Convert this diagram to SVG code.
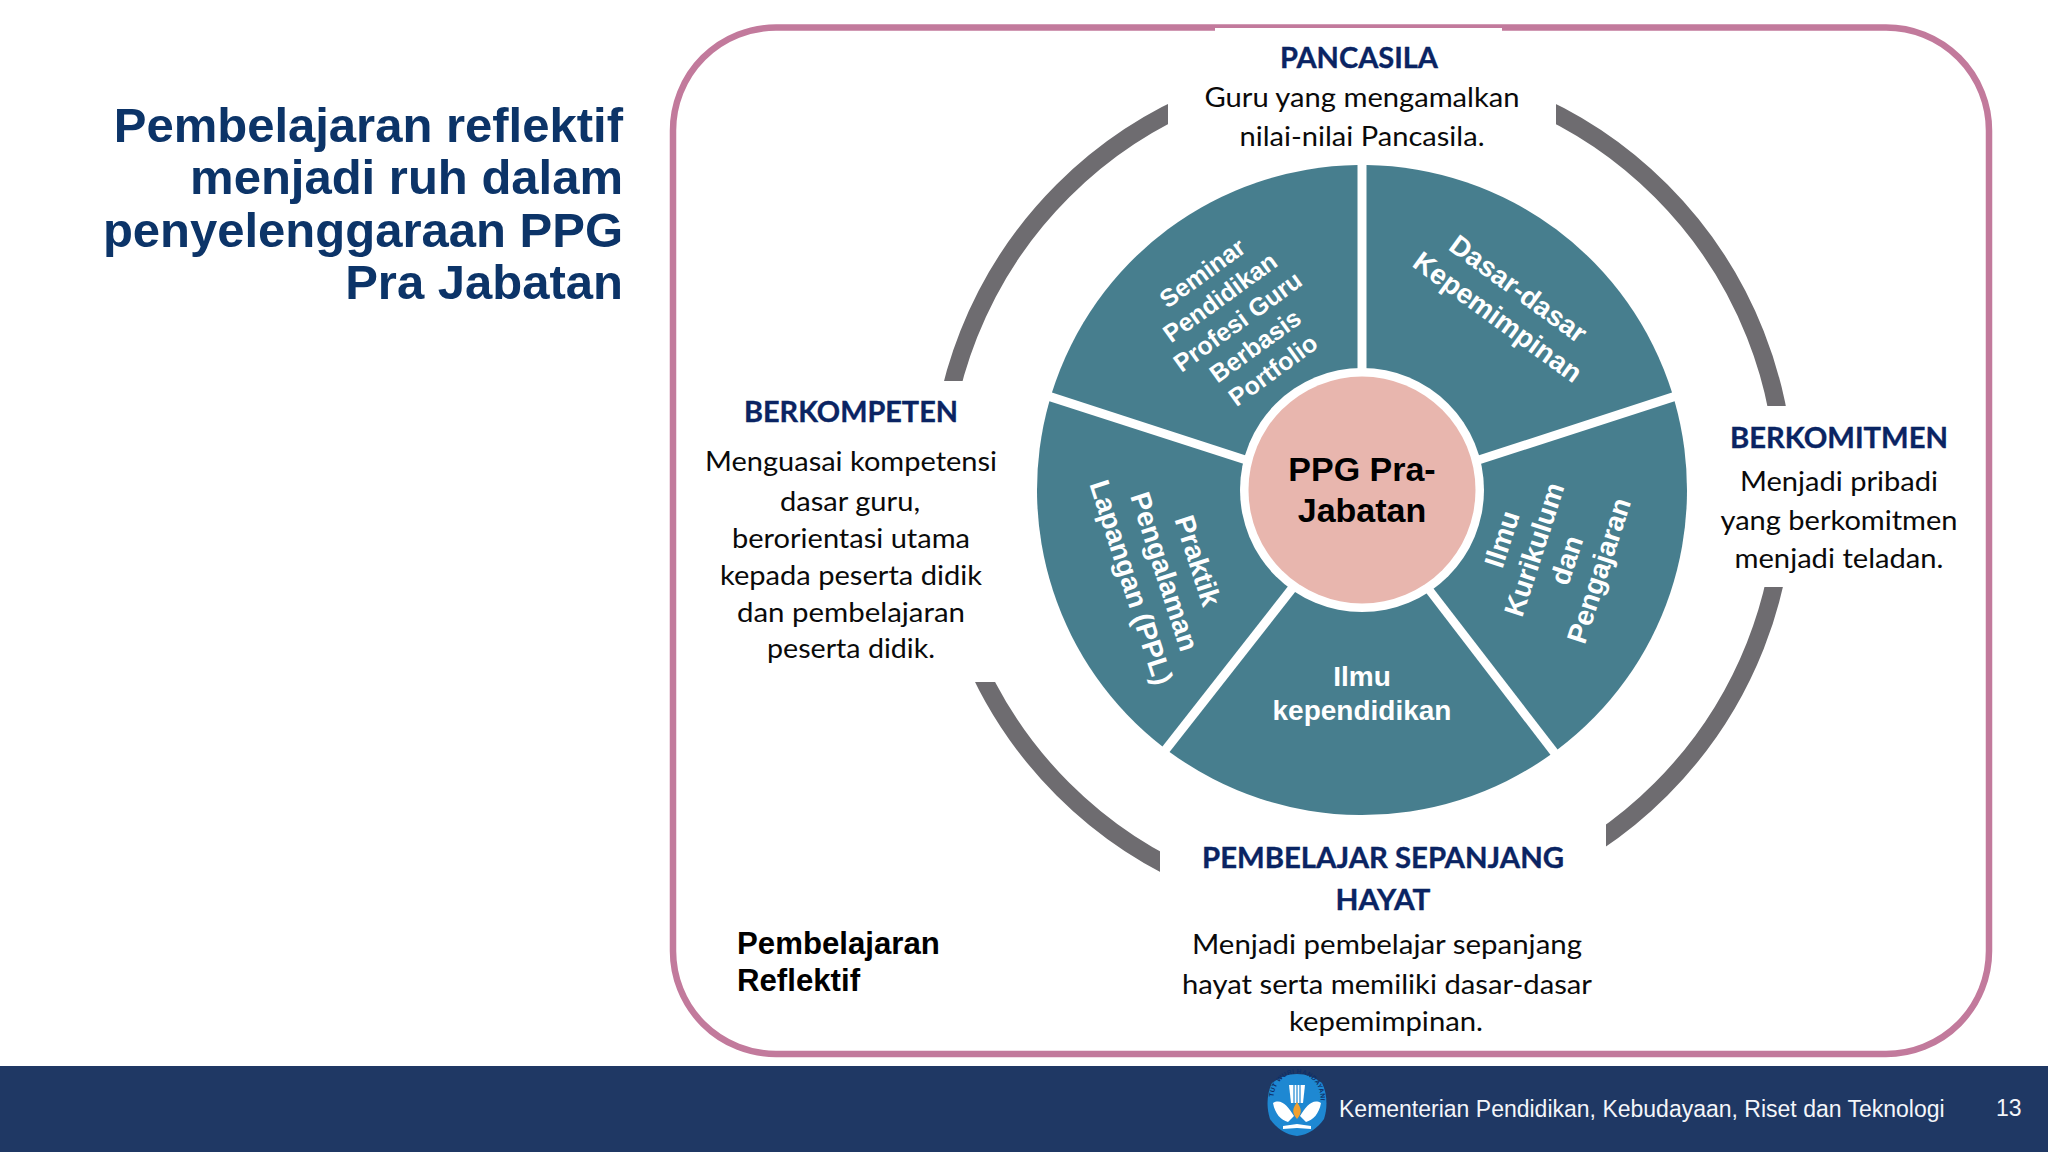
<svg xmlns="http://www.w3.org/2000/svg" width="2048" height="1152" viewBox="0 0 2048 1152">
<style>
.h{font-family:Lato,"Open Sans",sans-serif;font-weight:700;font-size:28px;fill:#0A2463;stroke:#0A2463;stroke-width:.35px;text-anchor:middle}
.b{font-family:Lato,"Open Sans",sans-serif;font-size:27px;fill:#0A0A0A;text-anchor:middle}
.t{font-family:"Liberation Sans",Arial,sans-serif;font-weight:700;font-size:49px;fill:#0C3468;text-anchor:end}
.w{font-family:"Liberation Sans",Arial,sans-serif;font-weight:700;font-size:28px;fill:#FFF;text-anchor:middle}
.s{font-size:25px}
.c{font-family:"Liberation Sans",Arial,sans-serif;font-weight:700;font-size:34px;fill:#000;text-anchor:middle}
.r{font-family:"Liberation Sans",Arial,sans-serif;font-weight:700;font-size:31.2px;fill:#000}
.f{font-family:"Liberation Sans",Arial,sans-serif;font-size:23px;fill:#F4F6FA}
.wedge{fill:#477E8E}
.mask{fill:#FFF}
</style>
<defs>
<path id="tw" d="M1274 1103A23.500 24.500 0 1 1 1320 1103" fill="none"/>
</defs>
<rect width="2048" height="1152" fill="#FFF"/>
<rect id="frame" x="673" y="27.500" width="1316" height="1026.500" rx="103" ry="103" fill="#FFF" stroke="#C27A9C" stroke-width="6.500"/>
<g id="connectors">
<circle cx="1362" cy="490" r="423" fill="none" stroke="#6E6C70" stroke-width="18"/>
</g>
<g id="title">
<text class="t" x="623" y="142">Pembelajaran reflektif</text>
<text class="t" x="623" y="194">menjadi ruh dalam</text>
<text class="t" x="623" y="247">penyelenggaraan PPG</text>
<text class="t" x="623" y="299">Pra Jabatan</text>
</g>
<g id="node-pancasila">
<rect class="mask" x="1215" y="28" width="287" height="60"/>
<rect class="mask" x="1168" y="80" width="388" height="84"/>
<text class="h" x="1359" y="68" textLength="158" lengthAdjust="spacingAndGlyphs">PANCASILA</text>
<text class="b" x="1362" y="107" textLength="315" lengthAdjust="spacingAndGlyphs">Guru yang mengamalkan</text>
<text class="b" x="1362" y="146" textLength="245" lengthAdjust="spacingAndGlyphs">nilai-nilai Pancasila.</text>
</g>
<g id="node-berkompeten">
<rect class="mask" x="690" y="381" width="320" height="301"/>
<text class="h" x="851" y="422" textLength="214" lengthAdjust="spacingAndGlyphs">BERKOMPETEN</text>
<text class="b" x="851" y="471" textLength="292" lengthAdjust="spacingAndGlyphs">Menguasai kompetensi</text>
<text class="b" x="850" y="511" textLength="140" lengthAdjust="spacingAndGlyphs">dasar guru,</text>
<text class="b" x="851" y="548" textLength="238" lengthAdjust="spacingAndGlyphs">berorientasi utama</text>
<text class="b" x="851" y="585" textLength="262" lengthAdjust="spacingAndGlyphs">kepada peserta didik</text>
<text class="b" x="851" y="622" textLength="228" lengthAdjust="spacingAndGlyphs">dan pembelajaran</text>
<text class="b" x="851" y="658" textLength="168" lengthAdjust="spacingAndGlyphs">peserta didik.</text>
</g>
<g id="node-berkomitmen">
<rect class="mask" x="1720" y="406" width="260" height="181"/>
<text class="h" x="1839" y="448" textLength="218" lengthAdjust="spacingAndGlyphs">BERKOMITMEN</text>
<text class="b" x="1839" y="491" textLength="198" lengthAdjust="spacingAndGlyphs">Menjadi pribadi</text>
<text class="b" x="1839" y="530" textLength="237" lengthAdjust="spacingAndGlyphs">yang berkomitmen</text>
<text class="b" x="1839" y="568" textLength="209" lengthAdjust="spacingAndGlyphs">menjadi teladan.</text>
</g>
<g id="node-pembelajar">
<rect class="mask" x="1160" y="822" width="446" height="226"/>
<text class="h" x="1383" y="868" textLength="362" lengthAdjust="spacingAndGlyphs">PEMBELAJAR SEPANJANG</text>
<text class="h" x="1383" y="910" textLength="95" lengthAdjust="spacingAndGlyphs">HAYAT</text>
<text class="b" x="1387" y="954" textLength="390" lengthAdjust="spacingAndGlyphs">Menjadi pembelajar sepanjang</text>
<text class="b" x="1387" y="994" textLength="410" lengthAdjust="spacingAndGlyphs">hayat serta memiliki dasar-dasar</text>
<text class="b" x="1386" y="1031" textLength="194" lengthAdjust="spacingAndGlyphs">kepemimpinan.</text>
</g>
<g id="node-reflektif">
<text class="r" x="737" y="954">Pembelajaran</text>
<text class="r" x="737" y="991">Reflektif</text>
</g>
<g id="wedge-dasar">
<path class="wedge" d="M1366.500 491.810L1366.500 165.030A325 325 0 0 1 1672.040 392.530Z"/>
<g transform="translate(1508 303) rotate(36)">
<text class="w" x="0" y="-8">Dasar-dasar</text>
<text class="w" x="0" y="27">Kepemimpinan</text>
</g>
</g>
<g id="wedge-kurikulum">
<path class="wedge" d="M1366 501L1674.610 401.160A325 325 0 0 1 1557.600 749.550Z"/>
<g transform="translate(1551 555) rotate(-72)">
<text class="w" x="0" y="-42">Ilmu</text>
<text class="w" x="0" y="-8">Kurikulum</text>
<text class="w" x="0" y="26">dan</text>
<text class="w" x="0" y="60">Pengajaran</text>
</g>
</g>
<g id="wedge-kependidikan">
<path class="wedge" d="M1361 508L1550.430 754.800A325 325 0 0 1 1169.550 751.900Z"/>
<text class="w" x="1362" y="686">Ilmu</text>
<text class="w" x="1362" y="720">kependidikan</text>
</g>
<g id="wedge-ppl">
<path class="wedge" d="M1355.600 500L1162.450 746.500A325 325 0 0 1 1049.390 401.160Z"/>
<g transform="translate(1163 572) rotate(72)">
<text class="w" x="0" y="-27">Praktik</text>
<text class="w" x="0" y="8">Pengalaman</text>
<text class="w" x="0" y="43">Lapangan (PPL)</text>
</g>
</g>
<g id="wedge-seminar">
<path class="wedge" d="M1357.500 491.810L1051.960 392.530A325 325 0 0 1 1357.500 165.030Z"/>
<g transform="translate(1238 322) rotate(-36)">
<text class="w s" x="0" y="-52">Seminar</text>
<text class="w s" x="0" y="-22">Pendidikan</text>
<text class="w s" x="0" y="8">Profesi Guru</text>
<text class="w s" x="0" y="38">Berbasis</text>
<text class="w s" x="0" y="68">Portfolio</text>
</g>
</g>
<g id="node-center">
<circle cx="1362" cy="490" r="122" fill="#FFF"/>
<circle cx="1362" cy="490" r="113.500" fill="#E8B6AE"/>
<text class="c" x="1362" y="481">PPG Pra-</text>
<text class="c" x="1362" y="522">Jabatan</text>
</g>
<g id="footer">
<rect y="1066" width="2048" height="86" fill="#1F3864"/>
<path d="M1297 1074C1306 1074 1314 1077 1322 1083C1327 1093 1328 1107 1324 1119C1318 1128 1308 1135 1297 1136C1286 1135 1276 1128 1270 1119C1266 1107 1267 1093 1272 1083C1280 1077 1288 1074 1297 1074Z" fill="#1E88D2"/>
<text font-family="Liberation Sans, sans-serif" font-weight="700" font-size="6.500" fill="#0F2F66" letter-spacing=".3"><textPath href="#tw" startOffset="6">TUT WURI HANDAYANI</textPath></text>
<path d="M1289 1085L1305 1085L1303 1103L1291 1103Z" fill="#FFF"/>
<path d="M1294 1085V1103M1297 1085V1103M1300 1085V1103" stroke="#1E88D2" stroke-width="1.200"/>
<path d="M1273 1103C1281 1098 1288 1106 1294 1116L1288 1122C1281 1120 1275 1114 1273 1103ZM1321 1103C1313 1098 1306 1106 1300 1116L1306 1122C1313 1120 1319 1114 1321 1103ZM1283 1126L1297 1124L1311 1126L1311 1129L1297 1128L1283 1129Z" fill="#FFF"/>
<path d="M1297 1102C1301 1108 1303 1112 1297 1119C1291 1112 1293 1108 1297 1102Z" fill="#F0A030"/>
<text class="f" x="1339" y="1117">Kementerian Pendidikan, Kebudayaan, Riset dan Teknologi</text>
<text class="f" x="1996" y="1116">13</text>
</g>
</svg>
